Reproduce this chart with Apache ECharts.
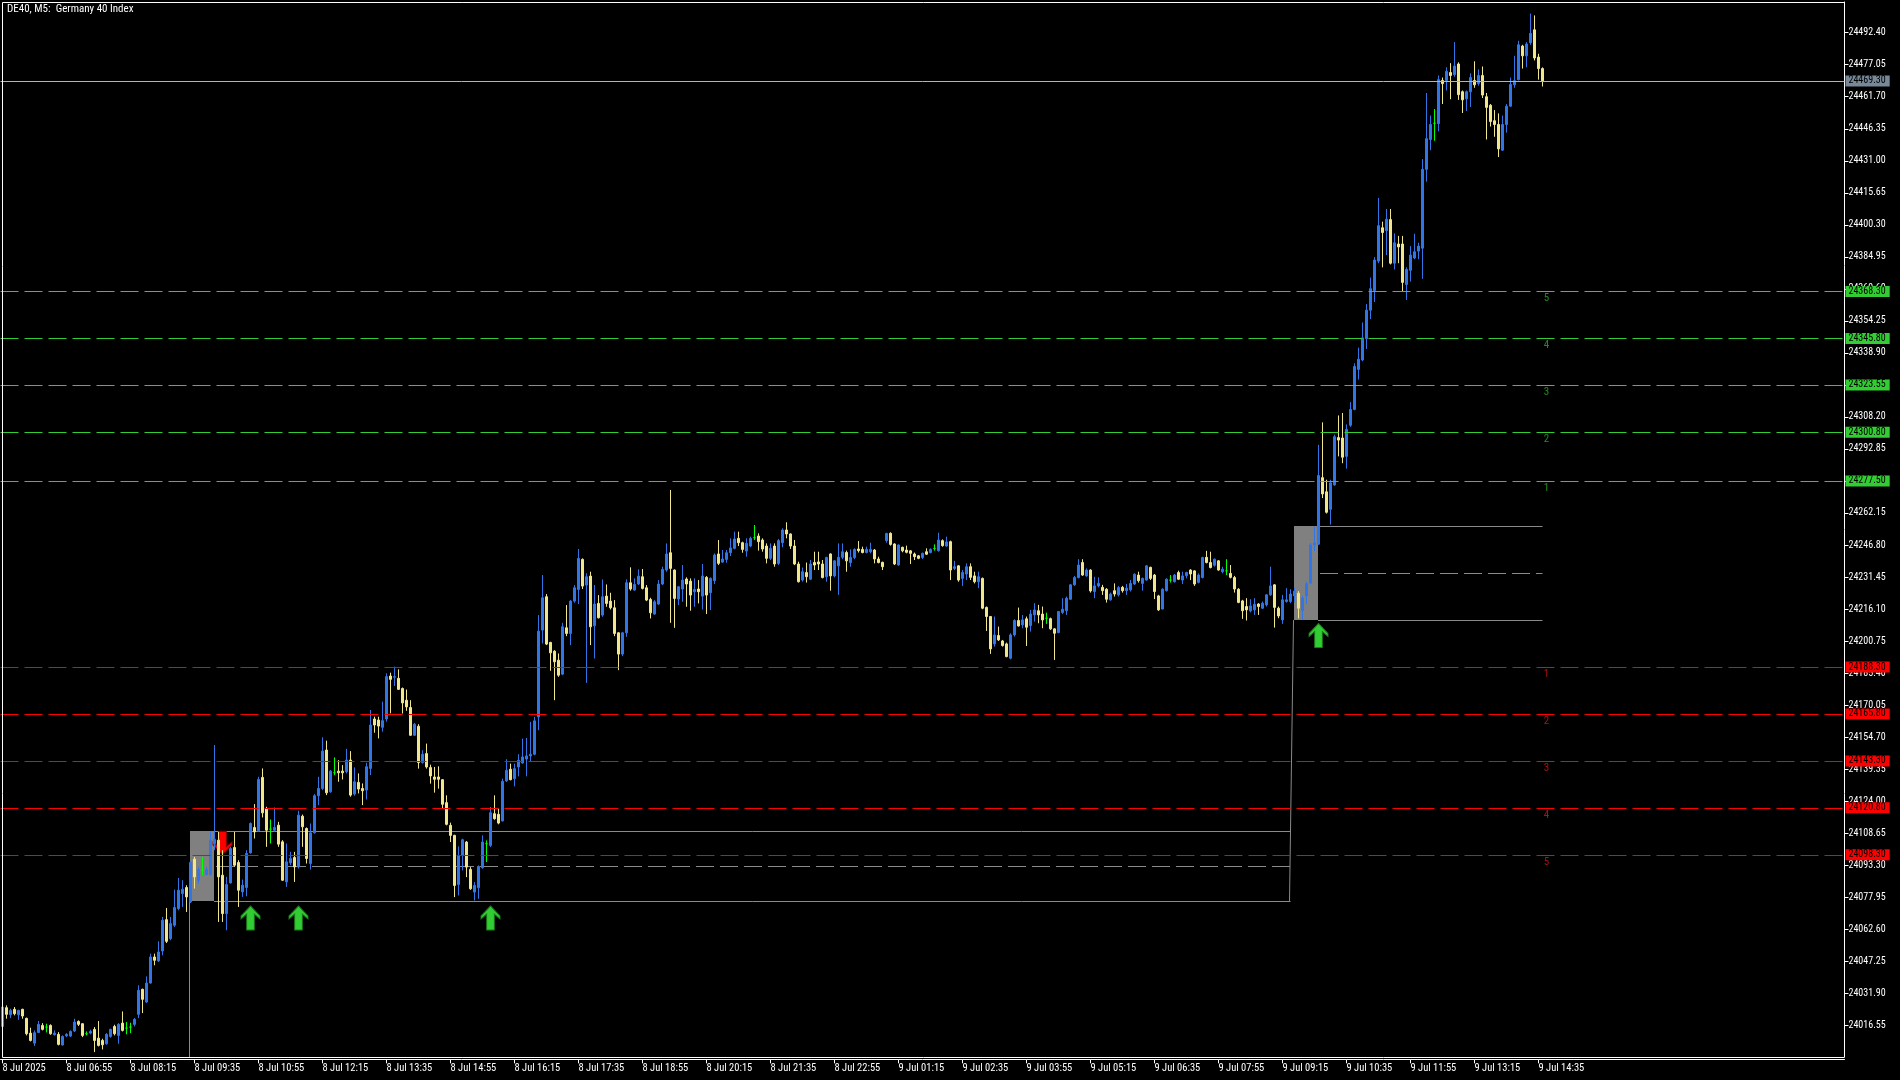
<!DOCTYPE html>
<html>
<head>
<meta charset="utf-8">
<script src="https://cdn.jsdelivr.net/npm/echarts@6.0.0/dist/echarts.min.js"></script>
<style>
html,body{margin:0;padding:0;background:#000;}
#c{width:1900px;height:1080px;}
</style>
</head>
<body>
<div id="c"></div>
<script>
// ---- data ----
const titleText = 'DE40, M5:  Germany 40 Index';
const timeLabels = ['8 Jul 2025','8 Jul 06:55','8 Jul 08:15','8 Jul 09:35','8 Jul 10:55','8 Jul 12:15','8 Jul 13:35','8 Jul 14:55','8 Jul 16:15','8 Jul 17:35','8 Jul 18:55','8 Jul 20:15','8 Jul 21:35','8 Jul 22:55','9 Jul 01:15','9 Jul 02:35','9 Jul 03:55','9 Jul 05:15','9 Jul 06:35','9 Jul 07:55','9 Jul 09:15','9 Jul 10:35','9 Jul 11:55','9 Jul 13:15','9 Jul 14:35'];
const barsPerLabel = 16;
const slotCount = 461; // visible 5-minute slots incl. right shift

// [open, close, low, high] per 5-minute bar
const ohlc = [
[24016.0,24025.3,24015.7,24026.1],[24025.0,24021.8,24019.7,24026.1],[24021.6,24023.7,24020.0,24024.5],[24024.2,24022.1,24021.3,24025.3],
[24021.6,24023.7,24019.2,24024.0],[24024.2,24021.0,24019.7,24024.5],[24019.9,24012.5,24011.7,24020.2],[24012.8,24009.3,24008.8,24015.4],
[24008.0,24013.0,24006.6,24014.1],[24013.1,24017.0,24013.0,24018.6],[24016.5,24014.6,24014.1,24017.6],[24015.7,24015.7,24013.1,24017.3],
[24016.5,24012.5,24012.0,24017.0],[24012.0,24012.8,24011.7,24014.1],[24012.2,24007.4,24006.9,24013.3],[24007.1,24011.2,24006.9,24011.7],
[24011.5,24012.2,24010.9,24012.8],[24011.4,24013.6,24010.9,24014.1],[24013.8,24018.1,24013.3,24019.7],[24018.4,24017.0,24016.2,24018.9],
[24017.3,24011.7,24010.9,24017.6],[24012.5,24012.5,24011.7,24013.6],[24012.8,24013.6,24012.2,24014.4],[24014.6,24009.3,24003.7,24015.7],
[24010.4,24006.9,24006.4,24018.6],[24009.3,24007.2,24005.0,24010.1],[24007.7,24012.2,24007.2,24012.8],[24011.2,24014.6,24010.6,24014.9],
[24016.0,24012.5,24011.7,24016.8],[24011.7,24017.0,24007.7,24017.6],[24017.6,24014.1,24013.6,24023.2],[24015.2,24015.2,24012.2,24018.1],
[24015.7,24015.7,24012.8,24017.8],[24017.0,24019.4,24016.0,24020.0],[24021.8,24033.3,24020.0,24035.7],[24033.8,24029.0,24022.4,24034.1],
[24027.7,24036.8,24027.2,24040.0],[24036.8,24049.3,24036.5,24050.9],[24049.3,24047.7,24045.3,24050.9],[24047.4,24051.7,24046.9,24056.8],
[24052.2,24066.9,24050.1,24068.5],[24067.2,24056.8,24056.0,24072.8],[24058.1,24065.3,24057.3,24068.5],[24064.5,24073.0,24063.7,24081.6],
[24072.5,24081.3,24071.7,24087.2],[24079.7,24081.8,24073.3,24086.1],[24082.6,24078.1,24070.9,24083.7],[24075.7,24094.6,24075.2,24094.9],
[24096.2,24087.7,24082.1,24097.3],[24086.1,24091.2,24084.5,24092.5],[24090.9,24090.9,24088.5,24097.3],[24088.8,24091.2,24088.5,24092.5],
[24088.8,24105.3,24088.5,24109.3],[24103.7,24105.8,24100.5,24150.9],[24105.3,24087.7,24066.1,24109.3],[24088.5,24070.1,24066.1,24100.5],
[24070.1,24084.0,24062.1,24087.7],[24084.8,24101.3,24084.5,24102.1],[24101.8,24093.3,24092.5,24109.3],[24094.6,24081.3,24073.3,24095.7],
[24080.5,24083.7,24078.1,24086.4],[24082.6,24098.9,24078.4,24100.5],[24099.2,24113.3,24098.9,24113.8],[24111.4,24109.3,24106.1,24122.6],
[24109.8,24134.4,24109.3,24135.7],[24135.4,24118.4,24116.2,24139.7],[24120.5,24110.1,24102.1,24121.3],[24110.6,24110.6,24103.7,24115.2],
[24110.1,24111.4,24109.3,24121.0],[24112.5,24103.4,24102.1,24114.1],[24104.5,24086.1,24085.8,24105.3],[24085.3,24094.9,24082.9,24103.7],
[24094.4,24096.5,24093.3,24099.7],[24097.0,24092.5,24085.3,24099.7],[24092.5,24117.3,24091.7,24119.4],[24116.8,24111.7,24102.1,24117.6],
[24110.9,24096.5,24094.1,24111.4],[24094.1,24108.8,24091.2,24113.3],[24108.8,24126.6,24108.5,24127.4],[24126.6,24130.1,24122.1,24135.7],
[24130.1,24148.0,24129.3,24154.6],[24148.5,24128.0,24126.9,24153.0],[24128.5,24138.4,24128.0,24138.9],[24137.6,24137.6,24136.5,24145.0],
[24138.4,24137.6,24133.3,24143.7],[24138.4,24137.6,24134.4,24141.3],[24138.1,24143.7,24137.3,24149.1],[24143.7,24126.9,24126.1,24148.0],
[24127.4,24133.3,24126.6,24140.2],[24133.0,24129.8,24127.7,24137.3],[24130.1,24129.0,24122.1,24132.5],[24129.3,24140.5,24124.8,24142.4],
[24139.7,24160.5,24136.5,24167.7],[24163.4,24160.5,24156.8,24164.5],[24162.9,24160.0,24154.1,24164.5],[24159.4,24162.6,24157.3,24171.7],
[24163.4,24183.7,24162.1,24185.3],[24184.0,24182.4,24166.1,24185.6],[24183.4,24183.7,24179.2,24188.5],[24182.9,24177.6,24177.3,24187.2],
[24178.0,24171.1,24166.0,24178.5],[24172.4,24169.2,24167.3,24177.5],[24168.9,24155.6,24155.3,24172.4],[24155.6,24160.9,24155.3,24161.5],
[24159.9,24142.5,24139.6,24160.9],[24142.5,24146.5,24142.0,24148.4],[24146.8,24140.4,24139.6,24151.6],[24140.1,24136.1,24132.4,24141.5],
[24135.6,24134.5,24128.1,24140.4],[24135.6,24134.5,24130.0,24140.7],[24134.3,24122.5,24120.4,24134.6],[24123.3,24112.9,24112.4,24126.8],
[24112.4,24107.6,24104.4,24113.7],[24107.6,24083.6,24078.0,24107.9],[24084.1,24098.0,24078.8,24102.3],[24098.0,24105.5,24090.8,24106.0],
[24104.4,24092.4,24087.6,24104.9],[24091.3,24082.0,24081.5,24092.4],[24080.4,24083.6,24076.4,24085.2],[24082.5,24092.7,24077.2,24093.2],
[24092.1,24104.4,24091.6,24107.6],[24103.6,24103.6,24094.8,24105.2],[24102.8,24118.5,24102.0,24121.2],[24118.0,24115.6,24115.1,24126.8],
[24117.7,24113.5,24112.9,24120.4],[24114.5,24133.5,24114.3,24134.8],[24133.7,24138.8,24133.2,24144.1],[24139.3,24134.3,24134.0,24142.0],
[24134.8,24139.6,24131.1,24142.0],[24140.4,24143.6,24135.9,24146.5],[24142.3,24145.2,24142.0,24154.0],[24144.2,24145.7,24135.9,24154.3],
[24145.7,24146.5,24142.8,24162.0],[24146.5,24162.5,24146.0,24164.4],[24164.4,24205.5,24158.0,24213.2],[24206.0,24221.5,24199.6,24232.4],
[24222.0,24199.3,24198.8,24223.3],[24200.1,24195.1,24186.5,24200.4],[24195.9,24190.8,24172.4,24196.4],[24191.6,24184.4,24183.6,24194.8],
[24184.9,24207.6,24184.4,24209.5],[24207.1,24204.4,24203.1,24218.0],[24204.4,24219.9,24198.8,24220.4],[24219.9,24226.3,24219.1,24227.6],
[24225.5,24240.4,24218.5,24244.9],[24239.9,24227.1,24225.7,24240.4],[24227.6,24231.6,24180.7,24233.2],[24231.9,24207.6,24198.8,24234.0],
[24208.1,24218.5,24192.4,24227.6],[24218.8,24211.9,24211.6,24222.8],[24213.2,24222.0,24212.4,24230.3],[24222.3,24218.8,24217.2,24227.9],
[24219.9,24216.7,24215.9,24223.9],[24216.7,24204.4,24203.1,24220.4],[24204.7,24194.5,24186.8,24205.0],[24194.5,24204.7,24193.5,24205.2],
[24204.7,24228.7,24202.8,24230.3],[24228.7,24225.7,24224.9,24236.1],[24225.2,24227.9,24224.9,24230.8],[24228.1,24231.9,24227.6,24235.1],
[24231.6,24226.0,24225.5,24235.3],[24226.3,24220.4,24219.9,24227.6],[24220.7,24214.3,24211.6,24221.5],[24213.7,24219.6,24213.4,24220.4],
[24218.5,24228.1,24218.0,24230.0],[24228.1,24235.1,24227.6,24236.4],[24234.8,24242.5,24234.0,24247.6],[24243.1,24235.6,24209.5,24273.2],
[24234.8,24221.2,24207.1,24235.1],[24220.9,24226.8,24218.0,24227.1],[24225.7,24230.0,24219.6,24237.2],[24230.5,24228.1,24217.2,24231.3],
[24229.5,24222.8,24215.3,24230.8],[24224.4,24225.5,24217.2,24230.8],[24225.7,24224.4,24218.8,24230.0],[24222.3,24231.9,24215.9,24237.7],
[24231.3,24222.8,24213.7,24231.9],[24223.9,24230.8,24215.6,24231.3],[24229.7,24242.0,24228.1,24242.8],[24242.5,24238.0,24237.2,24249.2],
[24238.6,24240.1,24238.3,24244.4],[24239.9,24243.1,24238.3,24244.4],[24243.1,24245.4,24241.5,24250.0],[24245.2,24249.7,24244.7,24253.2],
[24250.0,24247.9,24246.3,24253.2],[24247.9,24244.7,24243.1,24248.4],[24243.9,24247.6,24241.2,24250.0],[24246.3,24250.0,24245.7,24250.8],
[24250.3,24250.3,24249.2,24256.4],[24251.1,24248.4,24244.1,24252.4],[24249.2,24244.9,24243.6,24250.0],[24246.3,24240.4,24238.0,24247.6],
[24240.4,24245.2,24239.6,24247.6],[24246.3,24237.7,24236.4,24247.6],[24238.0,24248.9,24237.2,24249.7],[24247.9,24254.0,24245.7,24254.8],
[24254.0,24252.1,24250.0,24257.7],[24252.1,24246.3,24244.9,24252.4],[24246.3,24237.7,24237.2,24249.2],[24237.7,24229.2,24228.8,24238.8],
[24230.0,24234.0,24229.2,24236.0],[24233.6,24231.6,24228.8,24238.4],[24230.4,24237.7,24230.0,24239.6],[24238.4,24237.2,24234.8,24243.6],
[24238.7,24237.7,24234.8,24243.6],[24237.7,24231.2,24230.8,24239.6],[24231.6,24240.8,24229.2,24241.2],[24242.5,24232.0,24224.9,24242.8],
[24232.0,24239.2,24231.3,24239.6],[24236.8,24240.9,24222.9,24247.6],[24240.9,24243.6,24240.0,24247.6],[24243.2,24239.2,24234.0,24244.1],
[24238.4,24240.8,24236.4,24244.7],[24240.8,24244.7,24240.0,24245.2],[24244.9,24244.1,24243.2,24248.7],[24244.7,24243.2,24242.8,24246.0],
[24243.2,24244.7,24242.8,24246.0],[24243.6,24244.7,24242.8,24247.9],[24244.4,24240.1,24238.0,24244.9],[24240.1,24238.4,24238.0,24241.2],
[24238.5,24236.4,24234.8,24238.8],[24248.9,24252.3,24247.9,24252.7],[24252.4,24247.1,24246.5,24252.9],[24247.3,24237.7,24237.2,24247.6],
[24237.2,24246.8,24236.9,24247.1],[24245.7,24244.0,24243.3,24246.0],[24244.4,24243.3,24242.8,24246.5],[24244.0,24242.8,24237.7,24244.4],
[24242.5,24241.2,24239.6,24243.2],[24241.6,24240.4,24240.0,24242.0],[24240.8,24242.8,24240.1,24243.2],[24243.6,24242.4,24242.0,24245.2],
[24243.2,24244.7,24242.8,24245.2],[24245.1,24245.1,24244.1,24247.1],[24244.1,24249.2,24243.6,24252.7],[24248.9,24246.5,24246.0,24249.5],
[24246.3,24248.3,24246.0,24250.8],[24248.4,24234.8,24230.0,24248.9],[24235.6,24236.4,24234.8,24239.2],[24236.8,24230.0,24229.2,24237.2],
[24230.8,24233.6,24227.2,24234.8],[24232.9,24236.4,24230.0,24238.0],[24236.4,24231.3,24230.0,24238.0],[24232.0,24229.2,24228.4,24234.0],
[24229.2,24231.6,24226.1,24234.0],[24230.8,24216.5,24216.0,24231.2],[24216.9,24212.5,24205.6,24217.3],[24212.5,24197.0,24194.6,24212.8],
[24199.4,24203.7,24198.1,24212.5],[24203.4,24201.3,24200.8,24207.7],[24200.8,24198.6,24198.1,24201.3],[24199.4,24193.3,24193.0,24200.0],
[24192.5,24203.7,24192.0,24204.5],[24203.7,24210.6,24202.9,24211.2],[24210.6,24208.0,24207.7,24216.8],[24208.5,24210.9,24206.9,24213.3],
[24211.4,24207.4,24198.4,24212.5],[24208.2,24213.7,24205.3,24215.7],[24213.3,24215.7,24210.1,24218.9],[24215.3,24213.3,24209.3,24218.1],
[24213.7,24210.9,24206.9,24217.3],[24211.7,24211.7,24209.0,24214.4],[24211.5,24206.6,24206.1,24212.0],[24206.6,24204.5,24191.7,24206.9],
[24204.8,24214.9,24204.5,24215.2],[24214.5,24216.0,24213.7,24221.3],[24215.3,24221.3,24213.3,24222.1],[24220.8,24227.7,24220.5,24228.1],
[24227.7,24231.2,24227.2,24232.0],[24231.2,24237.2,24230.8,24240.0],[24238.4,24232.4,24232.0,24240.0],[24232.0,24234.8,24231.6,24235.6],
[24234.8,24224.8,24224.0,24235.2],[24224.5,24227.2,24221.3,24231.6],[24227.2,24228.4,24226.5,24231.3],[24226.5,24224.9,24222.9,24227.7],
[24225.6,24220.8,24219.2,24226.1],[24220.5,24223.3,24220.1,24224.0],[24224.9,24223.3,24222.1,24228.4],[24222.9,24226.4,24222.1,24227.2],
[24226.5,24224.9,24224.0,24227.2],[24224.9,24226.1,24222.9,24228.1],[24225.3,24228.4,24224.5,24230.0],[24228.1,24232.8,24227.7,24233.2],
[24232.4,24229.7,24228.8,24234.0],[24228.4,24230.8,24224.9,24231.2],[24230.0,24236.8,24229.7,24237.2],[24236.1,24230.8,24230.0,24236.4],
[24232.4,24224.5,24220.9,24232.9],[24222.4,24215.7,24215.2,24222.9],[24216.1,24225.6,24216.0,24226.1],[24224.9,24230.4,24224.5,24230.8],
[24230.0,24230.0,24228.8,24232.4],[24229.2,24232.4,24228.8,24232.9],[24233.6,24230.4,24230.0,24234.5],[24230.0,24232.0,24228.1,24234.0],
[24232.1,24233.6,24230.8,24234.0],[24234.8,24232.9,24230.0,24235.2],[24234.4,24228.1,24227.2,24234.8],[24228.9,24232.4,24228.4,24233.2],
[24231.2,24240.8,24230.8,24241.2],[24240.9,24238.4,24238.0,24244.0],[24238.4,24236.0,24235.6,24243.6],[24237.1,24240.0,24236.4,24240.3],
[24239.2,24234.8,24234.5,24239.6],[24234.0,24235.2,24233.2,24236.4],[24234.4,24234.4,24232.4,24240.0],[24233.2,24231.3,24230.8,24237.2],
[24231.2,24225.7,24224.0,24232.0],[24225.6,24219.3,24218.9,24226.1],[24220.0,24215.3,24211.4,24220.5],[24217.3,24215.7,24210.6,24221.3],
[24215.2,24217.6,24214.5,24220.8],[24215.7,24218.4,24213.3,24221.3],[24218.5,24217.3,24213.3,24218.9],[24216.5,24218.9,24216.1,24219.7],
[24218.1,24222.9,24217.3,24223.2],[24222.9,24227.2,24222.4,24236.4],[24227.7,24216.9,24207.2,24228.0],[24216.5,24212.8,24211.7,24217.3],
[24210.9,24220.5,24209.0,24222.9],[24219.7,24220.5,24219.2,24226.1],[24219.7,24223.3,24218.9,24225.6],[24222.4,24224.7,24219.4,24226.3],
[24223.7,24216.5,24211.6,24224.7],[24215.5,24221.4,24211.0,24222.4],[24222.4,24228.2,24218.5,24229.2],[24228.6,24246.8,24227.9,24247.8],
[24246.8,24247.8,24243.9,24255.6],[24247.2,24280.1,24246.8,24294.8],[24279.1,24271.3,24269.3,24305.6],[24272.3,24262.5,24261.9,24278.1],
[24263.9,24276.6,24256.6,24278.1],[24275.6,24298.7,24275.2,24299.7],[24298.3,24297.1,24289.3,24308.9],[24298.1,24288.9,24286.0,24310.1],
[24289.3,24302.2,24283.4,24304.6],[24304.2,24311.8,24303.4,24315.3],[24311.8,24332.4,24311.4,24333.9],[24331.0,24335.9,24326.1,24341.4],
[24335.5,24346.1,24334.9,24353.5],[24345.7,24359.4,24340.8,24362.3],[24359.4,24369.7,24355.1,24375.0],[24368.8,24383.4,24363.3,24384.8],
[24382.9,24399.9,24381.9,24413.2],[24398.9,24396.6,24379.9,24401.8],[24397.5,24403.0,24385.8,24407.9],[24402.8,24381.9,24381.3,24407.9],
[24381.9,24391.7,24378.9,24396.2],[24391.1,24389.7,24381.9,24395.0],[24391.1,24372.7,24368.2,24395.0],[24371.7,24378.9,24364.3,24379.9],
[24378.5,24385.8,24373.1,24390.1],[24384.4,24387.4,24383.8,24396.0],[24387.7,24390.1,24383.8,24391.7],[24389.1,24426.9,24374.4,24431.8],
[24426.9,24441.6,24421.0,24463.5],[24441.2,24448.4,24436.1,24452.7],[24449.0,24449.0,24440.6,24455.8],[24448.8,24469.9,24445.1,24471.9],
[24469.5,24468.0,24458.2,24470.9],[24469.5,24473.9,24464.7,24475.8],[24473.3,24471.9,24460.5,24477.8],[24472.3,24476.4,24471.3,24487.9],
[24477.4,24462.7,24460.2,24478.2],[24464.1,24460.2,24453.9,24464.7],[24460.7,24464.1,24454.9,24464.7],[24464.1,24470.9,24456.8,24472.9],
[24469.5,24467.4,24466.0,24478.7],[24468.0,24471.9,24467.0,24474.8],[24471.9,24462.5,24461.1,24476.2],[24461.7,24456.6,24441.2,24463.5],
[24457.6,24449.8,24447.4,24458.2],[24450.2,24448.4,24442.5,24455.3],[24448.4,24436.7,24432.8,24453.7],[24436.1,24448.4,24435.7,24452.7],
[24448.4,24457.2,24444.5,24458.2],[24457.2,24467.6,24456.8,24470.9],[24467.4,24469.4,24466.0,24481.3],[24469.9,24486.6,24469.5,24488.5],
[24486.0,24481.3,24475.2,24486.6],[24481.3,24487.0,24475.8,24487.9],[24487.6,24492.1,24486.6,24501.6],[24493.8,24480.3,24479.1,24500.7],
[24480.7,24475.2,24469.9,24482.3],[24475.2,24469.3,24466.6,24475.8]
];

// horizontal levels
const greenLevels = [24277.50, 24300.80, 24323.55, 24345.80, 24368.30];
const redLevels   = [24188.30, 24165.80, 24143.30, 24120.80, 24098.30];
const levelNames  = ['1', '2', '3', '4', '5'];
const bidPrice = 24469.30;

// range boxes: start bar, end bar, top, bottom, bar where lines end
const boxStart   = [47, 323];
const boxEnd     = [53, 329];
const boxTop     = [24109.6, 24255.8];
const boxBottom  = [24076.0, 24210.8];
const boxLineEnd = [322, 385];
// connector segments [bar1, price1, bar2, price2]
const connectors = [[47, 24076.0, 47, 24001.2], [322, 24076.0, 323, 24210.8]];

// arrows [bar, price]
const upArrows   = [[62, 24068.0], [74, 24068.0], [122, 24068.0], [329, 24203.4]];
const downArrows = [[55, 24104.0]];
const levelLabelBar = 386;

// y axis
const yMin = 24001.20, yMax = 24507.12, yStep = 15.35;

// ---- chart ----
const FONT = "'Roboto Condensed', 'DejaVu Sans Condensed', sans-serif";
const categories = Array.from({length: slotCount}, (_, i) => String(i));
const showLabel = (i) => i % barsPerLabel === 0 && i / barsPerLabel < timeLabels.length;

const BULL = '#3275e6', BEAR = '#f0e68c', DOJI = '#00ff00';
const GREEN = '#32cd32', RED = '#ff0000';

function lvl(price, color, bg, dashed) {
  return {
    yAxis: price,
    lineStyle: {color: color, width: 1, type: dashed ? [18, 6] : 'solid'},
    label: {show: true, position: 'end', distance: 1, formatter: price.toFixed(2),
      backgroundColor: bg, color: '#000', padding: [1, 4, 0, 3], fontSize: 10, lineHeight: 10,
      fontFamily: FONT}
  };
}
const markData = [];
greenLevels.forEach(p => markData.push(lvl(p, GREEN, GREEN, true)));
redLevels.forEach(p => markData.push(lvl(p, RED, RED, true)));
markData.push(lvl(bidPrice, '#b4b4b4', '#778899', false));

const numData = [];
greenLevels.forEach((p, i) => numData.push({value: [levelLabelBar, p, levelNames[i]], label: {color: '#2fae2f'}}));
redLevels.forEach((p, i) => numData.push({value: [levelLabelBar, p, levelNames[i]], label: {color: '#d81515'}}));

const crisp = v => Math.round(v) + 0.5;
const GRAY = '#8a8a8a';
const ARROW = 'path://M10,0 L20,10 L20,13 L14,8 L14,24 L6,24 L6,8 L0,13 L0,10 Z';

const chart = echarts.init(document.getElementById('c'), null, {renderer: 'canvas'});
const option = {
  backgroundColor: '#000',
  animation: false,
  textStyle: {fontFamily: FONT},
  grid: {left: 0.5, right: 55.5, top: 2, bottom: 22.68, containLabel: false, outerBoundsMode: 'none'},
  xAxis: {
    type: 'category', data: categories, boundaryGap: true, offset: 2,
    axisLine: {show: true, lineStyle: {color: '#ffffff', width: 1}},
    axisTick: {show: true, alignWithLabel: true, length: 4, interval: (i) => showLabel(i), lineStyle: {color: '#ffffff'}},
    axisLabel: {show: true, interval: (i) => showLabel(i), align: 'left', margin: 4, color: '#ffffff', fontSize: 10.5, fontFamily: FONT,
      formatter: (v, i) => timeLabels[i / barsPerLabel] || ''},
    splitLine: {show: false}
  },
  yAxis: {
    type: 'value', position: 'right', min: yMin, max: yMax, interval: yStep, scale: true,
    axisLine: {show: true, lineStyle: {color: '#ffffff', width: 1}},
    axisTick: {show: true, length: 4, lineStyle: {color: '#ffffff'}},
    axisLabel: {show: true, margin: 4, color: '#ffffff', fontSize: 10, fontFamily: FONT,
      showMinLabel: false, showMaxLabel: false, formatter: v => v.toFixed(2)},
    splitLine: {show: false}
  },
  graphic: [
    {type: 'polyline', silent: true, z: 50, shape: {points: [[1844, 2.5], [2.5, 2.5], [2.5, 1057.5], [1844, 1057.5]]},
      style: {stroke: '#ffffff', fill: null, lineWidth: 1}},
    {type: 'text', left: 7, top: 4, silent: true, z: 50,
      style: {text: titleText, fill: '#ffffff', fontSize: 11, fontFamily: FONT}}
  ],
  series: [
    {
      type: 'custom', name: 'boxes', z: 1, silent: true,
      data: boxStart.map((s, i) => [s, boxTop[i], boxEnd[i], boxBottom[i], boxLineEnd[i]]),
      encode: {x: [0, 2, 4], y: [1, 3]},
      renderItem: (params, api) => {
        const s = api.value(0), t = api.value(1), e = api.value(2), b = api.value(3), le = api.value(4);
        const m = (t + b) / 2;
        const tl = api.coord([s, t]), br = api.coord([e, b]);
        const mid = api.coord([e, m]), xe = api.coord([le, t])[0];
        const x0 = Math.floor(tl[0]), x1 = Math.floor(br[0]);
        return {type: 'group', children: [
          {type: 'rect', shape: {x: x0, y: Math.round(tl[1]), width: x1 - x0, height: Math.round(br[1]) - Math.round(tl[1])}, style: {fill: '#808080'}},
          {type: 'line', shape: {x1: x1, y1: crisp(tl[1]), x2: xe, y2: crisp(tl[1])}, style: {stroke: GRAY, lineWidth: 1}},
          {type: 'line', shape: {x1: x1, y1: crisp(br[1]), x2: xe, y2: crisp(br[1])}, style: {stroke: GRAY, lineWidth: 1}},
          {type: 'line', shape: {x1: x1 + 2, y1: crisp(mid[1]), x2: xe, y2: crisp(mid[1])}, style: {stroke: GRAY, lineWidth: 1, lineDash: [18, 6]}}
        ]};
      }
    },
    {
      type: 'custom', name: 'connectors', z: 1, silent: true,
      data: connectors,
      encode: {x: [0, 2], y: [1, 3]},
      renderItem: (params, api) => {
        const p1 = api.coord([api.value(0), api.value(1)]);
        const p2 = api.coord([api.value(2), api.value(3)]);
        return {type: 'line', shape: {x1: Math.floor(p1[0]) - 0.5, y1: p1[1], x2: Math.floor(p2[0]) - 0.5, y2: p2[1]}, style: {stroke: GRAY, lineWidth: 1}};
      }
    },
    {
      type: 'scatter', name: 'up', z: 2, silent: true,
      symbol: ARROW, symbolSize: [19, 24],
      itemStyle: {color: GREEN, borderColor: '#1c7d1c', borderWidth: 1, opacity: 1},
      data: upArrows
    },
    {
      type: 'scatter', name: 'down', z: 2, silent: true,
      symbol: ARROW, symbolSize: [19, 23], symbolRotate: 180,
      itemStyle: {color: RED, borderColor: '#8b0000', borderWidth: 1, opacity: 1},
      data: downArrows
    },
    {
      type: 'candlestick', name: 'DE40', z: 3, silent: true,
      barWidth: 2,
      data: ohlc,
      itemStyle: {color: BULL, color0: BEAR, borderColor: BULL, borderColor0: BEAR, borderColorDoji: DOJI, borderWidth: 1},
      markLine: {silent: true, symbol: ['none', 'none'], animation: false, z: 4, data: markData}
    },
    {
      type: 'scatter', name: 'levelNumbers', z: 4, silent: true,
      symbolSize: 0,
      data: numData,
      label: {show: true, position: 'inside', offset: [0, 7], fontSize: 11, fontFamily: FONT,
        formatter: p => p.value[2]}
    }
  ]
};
chart.setOption(option);
</script>
</body>
</html>
